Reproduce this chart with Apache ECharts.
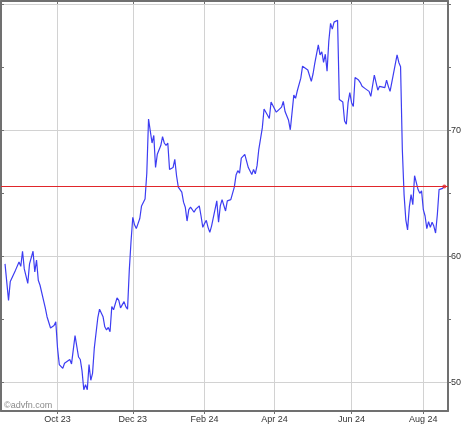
<!DOCTYPE html>
<html>
<head>
<meta charset="utf-8">
<script src="https://cdn.jsdelivr.net/npm/echarts@6/dist/echarts.min.js"></script>
<style>
  html, body { margin: 0; padding: 0; background: #fff; }
  #chart { width: 474px; height: 424px; }
</style>
</head>
<body>
<div id="chart"></div>
<script>
// trading-day index (0 = first session on the chart) and closing price
const days = [0, 2, 3, 4, 6, 8, 9, 10, 11, 13, 14, 16, 17, 18, 19, 20, 22, 23, 24, 25,
  26, 28, 29, 30, 31, 32, 33, 34, 37, 38, 39, 40, 41, 42, 43, 44, 45, 46, 47, 48,
  49, 50, 51, 53, 54, 56, 57, 58, 59, 60, 61, 62, 64, 65, 66, 67, 68, 69, 70, 71,
  72, 73, 74, 75, 77, 78, 79, 80, 81, 82, 83, 84, 85, 86, 87, 89, 90, 91, 92, 93,
  94, 96, 97, 98, 99, 101, 102, 103, 104, 105, 106, 107, 108, 109, 110, 111, 112, 113, 114, 115,
  116, 117, 118, 119, 121, 122, 123, 124, 126, 127, 129, 130, 131, 132, 133, 134, 135, 137, 138, 139,
  141, 142, 143, 144, 145, 147, 148, 150, 151, 152, 153, 155, 156, 158, 159, 160, 162, 163, 165, 166,
  167, 169, 170, 171, 173, 175, 176, 177, 179, 180, 181, 182, 183, 184, 185, 186, 187, 188, 189, 190,
  191, 192, 193, 194, 195, 196, 197, 198, 199, 200, 202, 203, 204, 206, 208, 209, 210, 211, 213, 214,
  215, 217, 218, 219, 220, 221, 222, 224, 225, 226, 227, 228, 229, 230, 231, 232, 233, 234, 235, 236,
  237, 238, 239, 240, 241, 242, 243, 244, 245, 246, 247, 248, 249, 250, 251];
const prices = [59.4, 56.5, 58.0, 57.85, 58.9, 59.55, 59.2, 60.4, 59.0, 57.85, 59.4, 60.4, 58.75, 59.7, 58.1, 57.7, 56.5, 55.9, 55.2, 55.3,
  54.3, 54.5, 54.8, 52.7, 51.4, 51.3, 51.1, 51.5, 51.8, 51.45, 51.4, 53.7, 53.55, 52.0, 51.8, 50.9, 49.4, 49.8, 49.4, 51.4,
  50.15, 50.7, 52.7, 55.1, 55.8, 55.2, 54.4, 54.15, 54.35, 54.0, 56.0, 55.75, 56.7, 56.5, 55.9, 55.9, 56.4, 56.0, 55.8, 58.9,
  61.2, 63.1, 62.5, 62.2, 63.0, 64.0, 64.0, 64.55, 66.6, 70.9, 70.9, 69.0, 69.6, 67.05, 68.1, 68.8, 69.5, 69.0, 68.8, 69.0,
  66.9, 67.05, 67.7, 66.4, 65.5, 65.1, 64.3, 63.9, 62.8, 63.7, 63.9, 63.8, 63.5, 63.75, 63.8, 64.0, 63.2, 62.3, 62.6, 62.85,
  62.3, 61.9, 62.4, 62.5, 64.4, 62.7, 64.0, 64.5, 63.6, 64.4, 64.5, 64.6, 65.5, 66.45, 66.8, 66.6, 67.8, 68.1, 68.05, 67.05,
  66.5, 66.9, 66.55, 67.2, 68.5, 70.2, 71.7, 71.2, 70.95, 72.25, 72.3, 71.45, 71.3, 71.85, 72.3, 71.5, 70.8, 70.05, 72.8, 72.55,
  73.15, 74.15, 75.1, 75.0, 74.8, 73.9, 74.5, 75.35, 76.8, 76.0, 76.25, 75.4, 76.05, 74.7, 77.1, 78.5, 78.05, 78.6, 78.75, 78.75,
  72.45, 72.4, 72.25, 70.75, 70.5, 72.2, 73.0, 72.2, 71.9, 74.2, 74.0, 73.8, 73.5, 73.3, 73.1, 72.7, 72.6, 74.4, 73.2, 73.5,
  73.4, 73.4, 74.0, 73.5, 73.1, 73.2, 74.55, 76.0, 75.4, 75.05, 68.5, 64.9, 62.9, 62.1, 63.9, 64.9, 64.1, 66.4, 66.5, 65.3,
  65.0, 65.2, 63.7, 63.2, 62.2, 62.75, 62.3, 62.7, 62.4, 61.85, 63.3, 65.3, 65.2, 65.4, 65.55];

// first session of each labelled month
const monthTicks = [30, 73, 114, 154, 198, 239];
const monthLabels = ['Oct 23', 'Dec 23', 'Feb 24', 'Apr 24', 'Jun 24', 'Aug 24'];
const priceTicks = [50, 55, 60, 65, 70, 75, 80];
const priceGrid = [50, 60, 70, 80];
const priceLabels = [50, 60, 70];

const lastDay = days[days.length - 1];
const lastPrice = prices[prices.length - 1];
const xMin = -2.3, xMax = 253.1;
const yMin = 47.71, yMax = 80.28;
const frame = '#707070';
const labelFont = { fontSize: 9, color: '#333', fontFamily: 'Liberation Sans' };

const chart = echarts.init(document.getElementById('chart'));
chart.setOption({
  animation: false,
  grid: { left: 1, right: 26, top: 1, bottom: 11 },
  xAxis: [
    {
      type: 'value', min: xMin, max: xMax, position: 'bottom',
      axisLine: { show: true, onZero: false, lineStyle: { color: frame, width: 2 } },
      axisTick: { show: true, customValues: monthTicks, length: 3, lineStyle: { color: frame } },
      axisLabel: Object.assign({
        customValues: monthTicks, margin: 4,
        formatter: v => monthLabels[monthTicks.indexOf(v)]
      }, labelFont),
      splitLine: { show: true, lineStyle: { color: '#d2d2d2', width: 1 } }
    },
    {
      type: 'value', min: xMin, max: xMax, position: 'top',
      axisLine: { show: true, onZero: false, lineStyle: { color: frame, width: 2 } },
      axisTick: { show: true, inside: true, customValues: monthTicks, length: 3, lineStyle: { color: frame } },
      axisLabel: { show: false },
      splitLine: { show: false }
    }
  ],
  yAxis: [
    {
      type: 'value', min: yMin, max: yMax, position: 'right',
      axisLine: { show: true, onZero: false, lineStyle: { color: frame, width: 2 } },
      axisTick: { show: true, customValues: priceTicks, length: 3, lineStyle: { color: frame } },
      axisLabel: Object.assign({ customValues: priceLabels, margin: 3 }, labelFont),
      splitLine: { show: false }
    },
    {
      type: 'value', min: yMin, max: yMax, position: 'left',
      axisLine: { show: true, onZero: false, lineStyle: { color: frame, width: 2 } },
      axisTick: { show: true, inside: true, customValues: priceTicks, length: 3, lineStyle: { color: frame } },
      axisLabel: { show: false },
      splitLine: { show: false }
    },
    {
      type: 'value', min: yMin, max: yMax, position: 'right',
      axisLine: { show: false },
      axisTick: { show: false, customValues: priceGrid },
      axisLabel: { show: false, customValues: priceGrid },
      splitLine: { show: true, lineStyle: { color: '#d2d2d2', width: 1 } }
    }
  ],
  graphic: [{
    type: 'text', left: 4, top: 401,
    style: { text: '\u00a9advfn.com', fill: '#8a8a8a', font: '9px "Liberation Sans"' }
  }],
  series: [
    {
      type: 'line',
      data: days.map((d, i) => [d, prices[i]]),
      symbol: 'none',
      lineStyle: { color: '#3d3df2', width: 1.2 },
      z: 3,
      markLine: {
        silent: true, symbol: 'none', label: { show: false },
        lineStyle: { color: '#e0262b', width: 1, type: 'solid' },
        data: [{ yAxis: lastPrice }]
      }
    },
    {
      type: 'scatter',
      data: [[lastDay, lastPrice]],
      symbolSize: 4,
      itemStyle: { color: '#e0262b' },
      z: 4
    }
  ]
});
</script>
</body>
</html>
